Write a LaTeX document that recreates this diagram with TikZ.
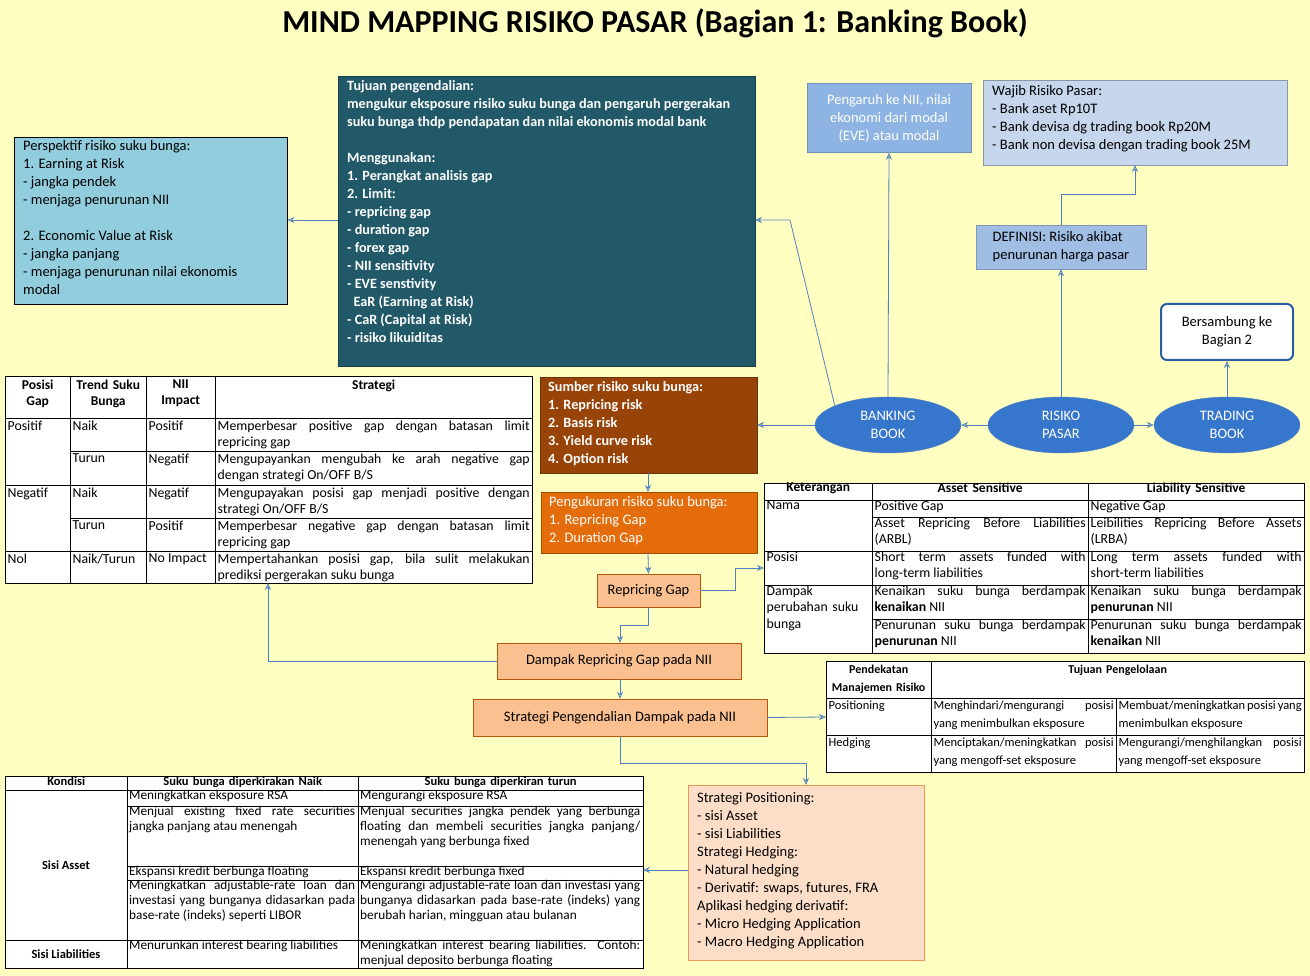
\documentclass[tikz,border=0pt]{standalone}
\usepackage{fontspec}
\setmainfont{Carlito}
\usetikzlibrary{arrows.meta,shapes.geometric}
\definecolor{bgy}{RGB}{255,255,194}
\definecolor{pblue}{RGB}{146,205,222}
\definecolor{tealc}{RGB}{33,89,104}
\definecolor{lblue}{RGB}{141,180,226}
\definecolor{lav}{RGB}{198,214,236}
\definecolor{dblue}{RGB}{160,190,228}
\definecolor{ellb}{RGB}{55,118,205}
\definecolor{brownc}{RGB}{152,68,8}
\definecolor{orng}{RGB}{228,108,10}
\definecolor{peach}{RGB}{250,192,144}
\definecolor{lpeach}{RGB}{252,222,200}
\definecolor{arr}{RGB}{79,129,189}
\newcommand\nohy{\hyphenpenalty=10000\exhyphenpenalty=10000}
\newcommand\tcc[4]{\node[tcell,text width=\dimexpr#3pt-#1pt-5pt\relax] at (#1,#2) {#4};}
\newcommand\thc[4]{\node[tcell,align=center,font=\bfseries\fontsize{13.5}{16.5}\selectfont,text width=\dimexpr#3pt-#1pt-5pt\relax] at (#1,#2) {#4};}
\begin{document}
\begin{tikzpicture}[x=1pt,y=-1pt,
  tcell/.style={anchor=north west,inner sep=2.5pt,align=justify,font=\nohy\fontsize{13.8}{16.5}\selectfont},
  conn/.style={draw=arr,thick,-{Stealth[length=7pt,width=6pt,open]}},
  ell/.style={ellipse,fill=ellb,draw=arr,minimum width=146pt,minimum height=56pt,text=white,align=center,font=\fontsize{14.5}{18}\selectfont},
  pbox/.style={fill=peach,draw=orng!80!black,align=center,font=\fontsize{14.5}{18}\selectfont,inner sep=0pt},
  btxt/.style={anchor=north west,align=left,font=\fontsize{14.5}{18}\selectfont,inner sep=0pt}]
\fill[bgy] (0,0) rectangle (1310,976);
\useasboundingbox (0,0) rectangle (1310,976);
\node[font=\bfseries\fontsize{32}{34}\selectfont] (title) at (655,23) {MIND MAPPING RISIKO PASAR (Bagian 1: Banking Book)};

% boxes
\node[draw=black,fill=pblue,minimum width=273pt,minimum height=167pt,anchor=north west,inner sep=0pt] (persp) at (14,137) {};
\node[btxt] (persptxt) at (23,140) {Perspektif risiko suku bunga:\\1. Earning at Risk\\- jangka pendek\\- menjaga penurunan NII\\[18pt]2. Economic Value at Risk\\- jangka panjang\\- menjaga penurunan nilai ekonomis\\modal};

\fill[tealc,draw=tealc!70!black] (338,76) rectangle (755,366);
\node[btxt,text=white,font=\bfseries\fontsize{14.2}{18}\selectfont] (tuj) at (347,80) {Tujuan pengendalian:\\mengukur eksposure risiko suku bunga dan pengaruh pergerakan\\suku bunga thdp pendapatan dan nilai ekonomis modal bank\\[18pt]Menggunakan:\\1. Perangkat analisis gap\\2. Limit:\\- repricing gap\\- duration gap\\- forex gap\\- NII sensitivity\\- EVE senstivity\\\ \ EaR (Earning at Risk)\\- CaR (Capital at Risk)\\- risiko likuiditas};
\coordinate (tujE) at (755,220); \coordinate (tujW) at (338,220);

\node[fill=lblue,draw=lblue!80!black,minimum width=164pt,minimum height=69pt,text=white,align=center,font=\fontsize{14.5}{18}\selectfont] (peng) at (889,118) {Pengaruh ke NII, nilai\\ekonomi dari modal\\(EVE) atau modal};
\node[fill=lav,draw=lav!70!black,minimum width=304pt,minimum height=85pt,anchor=north west,inner sep=0pt] (wajib) at (983,80) {};
\node[btxt] (wajtxt) at (992,85) {Wajib Risiko Pasar:\\- Bank aset Rp10T\\- Bank devisa dg trading book Rp20M\\- Bank non devisa dengan trading book 25M};
\node[fill=dblue,draw=dblue!80!black,minimum width=170pt,minimum height=44pt,align=left,font=\fontsize{14.5}{18}\selectfont] (def) at (1061,247) {DEFINISI: Risiko akibat\\penurunan harga pasar};
\node[draw=ellb!80!black,line width=2pt,rounded corners=6pt,fill=white,minimum width=132pt,minimum height=56pt,align=center,font=\fontsize{14.5}{18}\selectfont] (bers) at (1227,332) {Bersambung ke\\Bagian 2};

\node[ell] (bb) at (888,425) {BANKING\\BOOK};
\node[ell] (rp) at (1061,425) {RISIKO\\PASAR};
\node[ell] (tb) at (1227,425) {TRADING\\BOOK};

\fill[brownc,draw=brownc!70!black] (540,377) rectangle (757,473);
\node[btxt,text=white,font=\bfseries\fontsize{14.2}{18}\selectfont] (sumber) at (548,381) {Sumber risiko suku bunga:\\1. Repricing risk\\2. Basis risk\\3. Yield curve risk\\4. Option risk};
\coordinate (sumE) at (757,425);
\fill[orng,draw=orng!70!black] (541,492) rectangle (757,553);
\node[btxt,text=white] (pengk) at (549,496) {Pengukuran risiko suku bunga:\\1. Repricing Gap\\2. Duration Gap};

\node[pbox,minimum width=103pt,minimum height=33pt] (rg) at (648.5,590.5) {Repricing Gap};
\node[pbox,minimum width=244pt,minimum height=36pt] (dmp) at (619,661) {Dampak Repricing Gap pada NII};
\node[pbox,minimum width=294pt,minimum height=37pt] (str) at (620,717.5) {Strategi Pengendalian Dampak pada NII};
\fill[lpeach,draw=orng!70] (688,785) rectangle (924,960);
\node[btxt] (strpos) at (697,792) {Strategi Positioning:\\- sisi Asset\\- sisi Liabilities\\Strategi Hedging:\\- Natural hedging\\- Derivatif: swaps, futures, FRA\\Aplikasi hedging derivatif:\\- Micro Hedging Application\\- Macro Hedging Application};

% Table 1
\fill[white] (5,376) rectangle (532,583);
\draw (5,376) rectangle (532,583);
\foreach \x in {70,146,215} \draw (\x,376)--(\x,583);
\draw (5,418)--(532,418); \draw (70,451)--(532,451); \draw (5,485)--(532,485); \draw (70,518)--(532,518); \draw (5,551)--(532,551);
\thc{5}{377}{70}{Posisi\\Gap} \thc{70}{377}{146}{Trend Suku\\Bunga} \thc{146}{377}{215}{NII\\Impact} \thc{215}{377}{532}{Strategi}
\tcc{5}{418}{70}{Positif} \tcc{70}{418}{146}{Naik} \tcc{146}{418}{215}{Positif} \tcc{215}{418}{532}{Memperbesar positive gap dengan batasan limit repricing gap}
\tcc{70}{451}{146}{Turun} \tcc{146}{451}{215}{Negatif} \tcc{215}{451}{532}{Mengupayankan mengubah ke arah negative gap dengan strategi On/OFF B/S}
\tcc{5}{485}{70}{Negatif} \tcc{70}{485}{146}{Naik} \tcc{146}{485}{215}{Negatif} \tcc{215}{485}{532}{Mengupayakan posisi gap menjadi positive dengan strategi On/OFF B/S}
\tcc{70}{518}{146}{Turun} \tcc{146}{518}{215}{Positif} \tcc{215}{518}{532}{Memperbesar negative gap dengan batasan limit repricing gap}
\tcc{5}{551}{70}{Nol} \tcc{70}{551}{146}{Naik/Turun} \tcc{146}{551}{215}{No Impact} \tcc{215}{551}{532}{Mempertahankan posisi gap, bila sulit melakukan prediksi pergerakan suku bunga}

% Table 2
\fill[white] (764,483) rectangle (1304,653);
\draw (764,483) rectangle (1304,653);
\foreach \x in {872,1088} \draw (\x,483)--(\x,653);
\draw (764,500)--(1304,500); \draw (872,517)--(1304,517); \draw (764,551)--(1304,551); \draw (764,585)--(1304,585); \draw (872,619)--(1304,619);
\begin{scope}[tcell/.append style={inner ysep=0.5pt}]
\thc{764}{482}{872}{Keterangan} \thc{872}{482}{1088}{Asset Sensitive} \thc{1088}{482}{1304}{Liability Sensitive}
\tcc{764}{500}{872}{Nama} \tcc{872}{500}{1088}{Positive Gap} \tcc{1088}{500}{1304}{Negative Gap}
\tcc{872}{517}{1088}{Asset Repricing Before Liabilities (ARBL)} \tcc{1088}{517}{1304}{Leibilities Repricing Before Assets (LRBA)}
\tcc{764}{551}{872}{Posisi} \tcc{872}{551}{1088}{Short term assets funded with long-term liabilities} \tcc{1088}{551}{1304}{Long term assets funded with short-term liabilities}
\node[tcell,align=left,text width=103pt] at (764,585) {Dampak\\perubahan suku\\bunga};
\tcc{872}{585}{1088}{Kenaikan suku bunga berdampak \textbf{kenaikan} NII} \tcc{1088}{585}{1304}{Kenaikan suku bunga berdampak \textbf{penurunan} NII}
\tcc{872}{619}{1088}{Penurunan suku bunga berdampak \textbf{penurunan} NII} \tcc{1088}{619}{1304}{Penurunan suku bunga berdampak \textbf{kenaikan} NII}
\end{scope}

% Table 3
\begin{scope}[tcell/.append style={font=\nohy\fontsize{12.5}{18.5}\selectfont}]
\fill[white] (826,661) rectangle (1304,772);
\draw (826,661) rectangle (1304,772);
\draw (931,661)--(931,772); \draw (1116,698)--(1116,772);
\draw (826,698)--(1304,698); \draw (826,735)--(1304,735);
\node[tcell,align=center,font=\bfseries\fontsize{12}{18.5}\selectfont,text width=100pt] at (826,662) {Pendekatan\\Manajemen Risiko};
\node[tcell,align=center,font=\bfseries\fontsize{12}{18.5}\selectfont,text width=368pt] at (931,662) {Tujuan Pengelolaan};
\tcc{826}{698}{931}{Positioning} \tcc{931}{698}{1116}{Menghindari/mengurangi posisi yang menimbulkan eksposure} \tcc{1116}{698}{1304}{Membuat/meningkatkan posisi yang menimbulkan eksposure}
\tcc{826}{735}{931}{Hedging} \tcc{931}{735}{1116}{Menciptakan/meningkatkan posisi yang mengoff-set eksposure} \tcc{1116}{735}{1304}{Mengurangi/menghilangkan posisi yang mengoff-set eksposure}
\end{scope}

% Table 4
\begin{scope}[tcell/.append style={font=\nohy\fontsize{13.3}{15}\selectfont,inner xsep=2pt,inner ysep=0.5pt}]
\fill[white] (5,776) rectangle (643,968);
\draw (5,776) rectangle (643,968);
\draw (127,776)--(127,968); \draw (358,776)--(358,968);
\draw (5,790)--(643,790); \draw (127,806)--(643,806); \draw (127,866)--(643,866); \draw (127,880)--(643,880); \draw (5,940)--(643,940);
\node[tcell,align=center,font=\bfseries\fontsize{12.5}{14}\selectfont,text width=118pt] at (5,776) {Kondisi};
\node[tcell,align=center,font=\bfseries\fontsize{12.5}{14}\selectfont,text width=227pt] at (127,776) {Suku bunga diperkirakan Naik};
\node[tcell,align=center,font=\bfseries\fontsize{12.5}{14}\selectfont,text width=281pt] at (358,776) {Suku bunga diperkiran turun};
\node[font=\bfseries\fontsize{12.5}{14}\selectfont] at (66,865) {Sisi Asset};
\node[font=\bfseries\fontsize{12.5}{14}\selectfont] at (66,954) {Sisi Liabilities};
\tcc{127}{790}{358}{Meningkatkan eksposure RSA} \tcc{358}{790}{643}{Mengurangi eksposure RSA}
\tcc{127}{806}{358}{Menjual existing fixed rate securities jangka panjang atau menengah} \tcc{358}{806}{643}{Menjual securities jangka pendek yang berbunga floating dan membeli securities jangka panjang/ menengah yang berbunga fixed}
\tcc{127}{866}{358}{Ekspansi kredit berbunga floating} \tcc{358}{866}{643}{Ekspansi kredit berbunga fixed}
\tcc{127}{880}{358}{Meningkatkan adjustable-rate loan dan investasi yang bunganya didasarkan pada base-rate (indeks) seperti LIBOR} \tcc{358}{880}{643}{Mengurangi adjustable-rate loan dan investasi yang bunganya didasarkan pada base-rate (indeks) yang berubah harian, mingguan atau bulanan}
\tcc{127}{940}{358}{Menurunkan interest bearing liabilities} \tcc{358}{940}{643}{Meningkatkan interest bearing liabilities. Contoh: menjual deposito berbunga floating}
\end{scope}

% connectors
\coordinate (t1S) at (268,583); \coordinate (t2W) at (764,568); \coordinate (t3W) at (826,717); \coordinate (t4E) at (643,870);
\coordinate (posN) at (806,785); \coordinate (posW) at (688,870);
\coordinate (wajS) at (1135,165); \coordinate (dmpN) at (620,643);
\draw[conn] (bb.north) -- (peng.south);
\draw[conn] (rp.north) -- (def.south);
\draw[conn] (def.north) -- ++(0,-30) -| (wajS);
\draw[conn] (tb.north) -- (bers.south);
\draw[conn] (rp.west) -- (bb.east);
\draw[conn] (rp.east) -- (tb.west);
\draw[conn] (bb.west) -- (sumE);
\draw[conn] (bb.160) -- (790,220) -- (tujE);
\draw[conn] (tujW) -- (persp.east|-tujW);
\draw[conn] (648,473) -- (648,492);
\draw[conn] (648,553) -- (rg.north);
\draw[conn] (rg.east) -- ++(35,0) |- (t2W);
\draw[conn] (rg.south) -- ++(0,18) -| (dmpN);
\draw[conn] (dmp.west) -| (t1S);
\draw[conn] (dmp.south-|str.north) -- (str.north);
\draw[conn] (str.east) -- (t3W);
\draw[conn] (str.south) -- ++(0,27) -| (posN);
\draw[conn] (posW) -- (t4E);
\end{tikzpicture}
\end{document}
